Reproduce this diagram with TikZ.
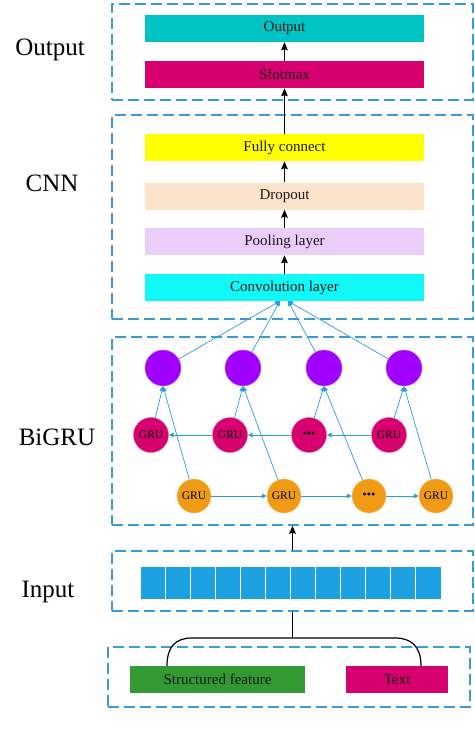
\documentclass[tikz,border=0pt]{standalone}
\usepackage{fontspec}
\setmainfont{Liberation Serif}
\usetikzlibrary{arrows.meta,calc}
\definecolor{dashblue}{RGB}{60,155,215}
\definecolor{linkblue}{RGB}{40,160,220}
\definecolor{outteal}{RGB}{0,196,196}
\definecolor{magred}{RGB}{214,0,110}
\definecolor{fcyellow}{RGB}{255,255,0}
\definecolor{droppeach}{RGB}{252,228,204}
\definecolor{poollav}{RGB}{235,205,250}
\definecolor{convcyan}{RGB}{16,248,248}
\definecolor{cellblue}{RGB}{27,160,226}
\definecolor{sgreen}{RGB}{51,153,51}
\definecolor{cpurple}{RGB}{160,0,255}
\definecolor{corange}{RGB}{240,155,20}
\tikzset{
  dashbox/.style={draw=dashblue,line width=1.3pt,dash pattern=on 11pt off 5pt,minimum width=361pt,inner sep=0pt},
  bar/.style={minimum width=279pt,minimum height=27pt,inner sep=0pt,font=\fontsize{15}{17}\selectfont,text=black!90},
  cell/.style={fill=cellblue,draw=white,line width=0.8pt,minimum width=25.08pt,minimum height=33pt,inner sep=0pt},
  sidelabel/.style={font=\fontsize{25}{29}\selectfont},
  pcirc/.style={circle,fill=cpurple,draw=cpurple!60!white,line width=0.4pt,minimum size=36pt,inner sep=0pt},
  mcirc/.style={circle,fill=magred,draw=magred!60!white,line width=0.4pt,minimum size=35pt,inner sep=0pt,font=\fontsize{11.5}{12}\selectfont},
  ocirc/.style={circle,fill=corange,draw=corange!60!white,line width=0.4pt,minimum size=34pt,inner sep=0pt,font=\fontsize{11.5}{12}\selectfont},
  dots/.style={font=\fontsize{12}{12}\selectfont},
  blackarrow/.style={line width=1.5pt,-{Stealth[length=8pt,width=6.5pt,inset=1pt]}},
  bluearrow/.style={draw=linkblue,line width=0.7pt,-{Triangle[length=5pt,width=4.5pt]}}
}
\begin{document}
\begin{tikzpicture}[x=1pt,y=-1pt]
\useasboundingbox (0,0) rectangle (474,730);
% dashed boxes
\node[dashbox,minimum height=96pt] (outbox) at (292.5,52) {};
\node[dashbox,minimum height=204pt] (cnnbox) at (292.5,217) {};
\node[dashbox,minimum height=188pt] (grubox) at (292.5,431) {};
\node[dashbox,minimum height=60pt] (inbox) at (292.5,581) {};
\node[dashbox,minimum width=362pt,minimum height=60pt] (srcbox) at (289,677) {};
% side labels
\node[sidelabel] (lout) at (50,50) {Output};
\node[sidelabel] (lcnn) at (52,183) {CNN};
\node[sidelabel] (lgru) at (57,437) {BiGRU};
\node[sidelabel] (lin) at (48,592) {Input};
% bars
\node[bar,fill=outteal] (output) at (284.5,28.5) {Output};
\node[bar,fill=magred] (softmax) at (284.5,74.5) {Sfotmax};
\node[bar,fill=fcyellow] (fc) at (284.5,147.5) {Fully connect};
\node[bar,fill=droppeach] (drop) at (284.5,196) {Dropout};
\node[bar,fill=poollav] (pool) at (284.5,241.5) {Pooling layer};
\node[bar,fill=convcyan] (conv) at (284.5,287.5) {Convolution layer};
\draw[blackarrow] (softmax) -- (output);
\draw[blackarrow] (fc) -- (softmax);
\draw[blackarrow] (drop) -- (fc);
\draw[blackarrow] (pool) -- (drop);
\draw[blackarrow] (conv) -- (pool);
% BiGRU
\node[pcirc] (p1) at (163,368) {};
\node[pcirc] (p2) at (243,368) {};
\node[pcirc] (p3) at (324,368) {};
\node[pcirc] (p4) at (404,368) {};
\node[mcirc] (m1) at (151,435) {GRU};
\node[mcirc] (m2) at (230,435) {GRU};
\node[mcirc,dots] (m3) at (309,435) {•••};
\node[mcirc] (m4) at (389,435) {GRU};
\node[ocirc] (o1) at (194,496) {GRU};
\node[ocirc] (o2) at (284,496) {GRU};
\node[ocirc,dots] (o3) at (369,496) {•••};
\node[ocirc] (o4) at (436,496) {GRU};
\coordinate (cl) at (280,301);
\coordinate (cr) at (288,301);
\draw[bluearrow] (p1) -- (cl);
\draw[bluearrow] (p2) -- (cl);
\draw[bluearrow] (p3) -- (cr);
\draw[bluearrow] (p4) -- (cr);
\foreach \k in {1,2,3,4}{
  \draw[bluearrow] (m\k) -- (p\k.south);
  \draw[bluearrow] (o\k) -- (p\k.south);
}
\draw[bluearrow] (m4) -- (m3);
\draw[bluearrow] (m3) -- (m2);
\draw[bluearrow] (m2) -- (m1);
\draw[bluearrow] (o1) -- (o2);
\draw[bluearrow] (o2) -- (o3);
\draw[bluearrow] (o3) -- (o4);
% Input cells
\foreach \i in {0,...,11}{
  \node[cell] (c\i) at ({140+12.54+25.08*\i},582.5) {};
}
\draw[blackarrow] (inbox.north) -- (grubox.south);
% sources
\node[fill=sgreen,minimum width=175pt,minimum height=27pt,inner sep=0pt,font=\fontsize{15}{17}\selectfont,text=black!90] (sf) at (217.5,679.5) {Structured feature};
\node[fill=magred,minimum width=102pt,minimum height=27pt,inner sep=0pt,font=\fontsize{15}{17}\selectfont,text=black!90] (tx) at (397,679.5) {Text};
\coordinate (bj) at (292.5,638);
\coordinate (sft) at (167,666);
\coordinate (txt) at (421,666);
\draw[line width=1.2pt] (inbox.south) -- (bj);
\draw[line width=1.2pt] (sft) .. controls (167,646) and (176,638) .. (192,638) -- (395,638) .. controls (411,638) and (421,646) .. (txt);
\end{tikzpicture}
\end{document}
